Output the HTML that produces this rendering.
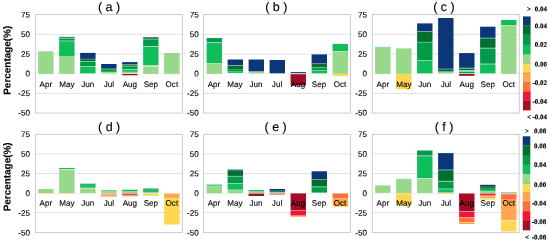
<!DOCTYPE html>
<html lang="en"><head><meta charset="utf-8"><title>Figure</title>
<style>html,body{margin:0;padding:0;background:#fff;}svg{display:block;}</style>
</head><body>
<svg width="550" height="242" viewBox="0 0 550 242" text-rendering="geometricPrecision">
<rect width="550" height="242" fill="#ffffff"/>
<line x1="35.35" x2="182.35" y1="34.3" y2="34.3" stroke="#d9d9d9" stroke-width="0.8"/>
<line x1="35.35" x2="182.35" y1="54" y2="54" stroke="#d9d9d9" stroke-width="0.8"/>
<line x1="35.35" x2="182.35" y1="73.6" y2="73.6" stroke="#f0f0f0" stroke-width="0.8"/>
<line x1="35.35" x2="182.35" y1="93.4" y2="93.4" stroke="#d9d9d9" stroke-width="0.8"/>
<rect x="35.35" y="14.5" width="147" height="98.6" fill="none" stroke="#c6c6c6" stroke-width="0.9"/>
<rect x="38.15" y="51.3" width="15.4" height="22.55" fill="#98d88b"/>
<rect x="59.15" y="36.8" width="15.4" height="1.1" fill="#14905a"/>
<rect x="59.15" y="38.4" width="15.4" height="2.3" fill="#009a48"/>
<rect x="59.15" y="41.2" width="15.4" height="14.8" fill="#0fbe5a"/>
<rect x="59.15" y="56" width="15.4" height="17.85" fill="#98d88b"/>
<rect x="80.15" y="52.9" width="15.4" height="6" fill="#0b3678"/>
<rect x="80.15" y="59.2" width="15.4" height="2" fill="#006f30"/>
<rect x="80.15" y="61.6" width="15.4" height="4.6" fill="#009a48"/>
<rect x="80.15" y="66.6" width="15.4" height="6.8" fill="#0fbe5a"/>
<rect x="101.15" y="64" width="15.4" height="4.3" fill="#0b3678"/>
<rect x="101.15" y="68.3" width="15.4" height="1.3" fill="#006f30"/>
<rect x="101.15" y="69.6" width="15.4" height="1.4" fill="#009a48"/>
<rect x="101.15" y="71" width="15.4" height="1.4" fill="#0fbe5a"/>
<rect x="101.15" y="72.4" width="15.4" height="1.1" fill="#98d88b"/>
<rect x="122.15" y="62.1" width="15.4" height="2.1" fill="#0b3678"/>
<rect x="122.15" y="64.5" width="15.4" height="1.3" fill="#006f30"/>
<rect x="122.15" y="66.3" width="15.4" height="2.7" fill="#009a48"/>
<rect x="122.15" y="69.5" width="15.4" height="2.3" fill="#0fbe5a"/>
<rect x="122.15" y="72" width="15.4" height="1.4" fill="#98d88b"/>
<rect x="122.15" y="74" width="15.4" height="1.3" fill="#a40d25"/>
<rect x="143.15" y="37.1" width="15.4" height="0.5" fill="#0b3678"/>
<rect x="143.15" y="37.6" width="15.4" height="1.2" fill="#006f30"/>
<rect x="143.15" y="39.3" width="15.4" height="6.9" fill="#009a48"/>
<rect x="143.15" y="46.7" width="15.4" height="18.3" fill="#0fbe5a"/>
<rect x="143.15" y="65.3" width="15.4" height="1" fill="#98d88b"/>
<rect x="143.15" y="66.6" width="15.4" height="7.25" fill="#98d88b"/>
<rect x="164.15" y="53" width="15.4" height="20.85" fill="#98d88b"/>
<rect x="164.15" y="73.85" width="15.4" height="0.45" fill="#f5e39a"/>
<text transform="translate(45.85 87.1) rotate(0.06)" font-family='"Liberation Sans", Arial, sans-serif' font-size="8.1" text-anchor="middle" fill="#000" stroke="#000" stroke-width="0.12">Apr</text>
<text transform="translate(66.85 87.1) rotate(0.06)" font-family='"Liberation Sans", Arial, sans-serif' font-size="8.1" text-anchor="middle" fill="#000" stroke="#000" stroke-width="0.12">May</text>
<text transform="translate(87.85 87.1) rotate(0.06)" font-family='"Liberation Sans", Arial, sans-serif' font-size="8.1" text-anchor="middle" fill="#000" stroke="#000" stroke-width="0.12">Jun</text>
<text transform="translate(108.85 87.1) rotate(0.06)" font-family='"Liberation Sans", Arial, sans-serif' font-size="8.1" text-anchor="middle" fill="#000" stroke="#000" stroke-width="0.12">Jul</text>
<text transform="translate(129.85 87.1) rotate(0.06)" font-family='"Liberation Sans", Arial, sans-serif' font-size="8.1" text-anchor="middle" fill="#000" stroke="#000" stroke-width="0.12">Aug</text>
<text transform="translate(150.85 87.1) rotate(0.06)" font-family='"Liberation Sans", Arial, sans-serif' font-size="8.1" text-anchor="middle" fill="#000" stroke="#000" stroke-width="0.12">Sep</text>
<text transform="translate(171.85 87.1) rotate(0.06)" font-family='"Liberation Sans", Arial, sans-serif' font-size="8.1" text-anchor="middle" fill="#000" stroke="#000" stroke-width="0.12">Oct</text>
<text transform="translate(29.95 17.5) rotate(0.06)" font-family='"Liberation Sans", Arial, sans-serif' font-size="8.1" text-anchor="end" fill="#000" stroke="#000" stroke-width="0.12">75</text>
<text transform="translate(29.95 37.12) rotate(0.06)" font-family='"Liberation Sans", Arial, sans-serif' font-size="8.1" text-anchor="end" fill="#000" stroke="#000" stroke-width="0.12">50</text>
<text transform="translate(29.95 56.74) rotate(0.06)" font-family='"Liberation Sans", Arial, sans-serif' font-size="8.1" text-anchor="end" fill="#000" stroke="#000" stroke-width="0.12">25</text>
<text transform="translate(29.95 76.36) rotate(0.06)" font-family='"Liberation Sans", Arial, sans-serif' font-size="8.1" text-anchor="end" fill="#000" stroke="#000" stroke-width="0.12">0</text>
<text transform="translate(29.95 95.98) rotate(0.06)" font-family='"Liberation Sans", Arial, sans-serif' font-size="8.1" text-anchor="end" fill="#000" stroke="#000" stroke-width="0.12">-25</text>
<text transform="translate(29.95 115.6) rotate(0.06)" font-family='"Liberation Sans", Arial, sans-serif' font-size="8.1" text-anchor="end" fill="#000" stroke="#000" stroke-width="0.12">-50</text>
<text transform="translate(109 10.9) rotate(0.06)" font-family='"Liberation Sans", Arial, sans-serif' font-size="12.5" text-anchor="middle" fill="#000" stroke="#000" stroke-width="0.12">( a )</text>
<line x1="203.5" x2="350.5" y1="34.3" y2="34.3" stroke="#d9d9d9" stroke-width="0.8"/>
<line x1="203.5" x2="350.5" y1="54" y2="54" stroke="#d9d9d9" stroke-width="0.8"/>
<line x1="203.5" x2="350.5" y1="73.6" y2="73.6" stroke="#f0f0f0" stroke-width="0.8"/>
<line x1="203.5" x2="350.5" y1="93.4" y2="93.4" stroke="#d9d9d9" stroke-width="0.8"/>
<rect x="203.5" y="14.5" width="147" height="98.6" fill="none" stroke="#c6c6c6" stroke-width="0.9"/>
<rect x="206.6" y="38.1" width="15.4" height="3.9" fill="#009a48"/>
<rect x="206.6" y="42.5" width="15.4" height="20.8" fill="#0fbe5a"/>
<rect x="206.6" y="63.5" width="15.4" height="10.35" fill="#98d88b"/>
<rect x="227.6" y="59.5" width="15.4" height="5.7" fill="#0b3678"/>
<rect x="227.6" y="65.6" width="15.4" height="4.1" fill="#006f30"/>
<rect x="227.6" y="69.9" width="15.4" height="1.4" fill="#009a48"/>
<rect x="227.6" y="71.3" width="15.4" height="1.6" fill="#0fbe5a"/>
<rect x="248.6" y="59.5" width="15.4" height="12" fill="#0b3678"/>
<rect x="248.6" y="71.7" width="15.4" height="1.7" fill="#98d88b"/>
<rect x="248.6" y="73.6" width="15.4" height="0.4" fill="#f7c9c9"/>
<rect x="269.6" y="60" width="15.4" height="13.3" fill="#0b3678"/>
<rect x="290.6" y="72.1" width="15.4" height="1.1" fill="#0b3678"/>
<rect x="290.6" y="74.2" width="15.4" height="11.3" fill="#a40d25"/>
<rect x="311.6" y="54.4" width="15.4" height="9.2" fill="#0b3678"/>
<rect x="311.6" y="64" width="15.4" height="3.5" fill="#006f30"/>
<rect x="311.6" y="67.9" width="15.4" height="2.6" fill="#009a48"/>
<rect x="311.6" y="70.9" width="15.4" height="2.5" fill="#0fbe5a"/>
<rect x="332.6" y="43.9" width="15.4" height="7.3" fill="#0fbe5a"/>
<rect x="332.6" y="51.5" width="15.4" height="22.35" fill="#98d88b"/>
<rect x="332.6" y="74.1" width="15.4" height="1.9" fill="#ffd851"/>
<text transform="translate(214 87.1) rotate(0.06)" font-family='"Liberation Sans", Arial, sans-serif' font-size="8.1" text-anchor="middle" fill="#000" stroke="#000" stroke-width="0.12">Apr</text>
<text transform="translate(235 87.1) rotate(0.06)" font-family='"Liberation Sans", Arial, sans-serif' font-size="8.1" text-anchor="middle" fill="#000" stroke="#000" stroke-width="0.12">May</text>
<text transform="translate(256 87.1) rotate(0.06)" font-family='"Liberation Sans", Arial, sans-serif' font-size="8.1" text-anchor="middle" fill="#000" stroke="#000" stroke-width="0.12">Jun</text>
<text transform="translate(277 87.1) rotate(0.06)" font-family='"Liberation Sans", Arial, sans-serif' font-size="8.1" text-anchor="middle" fill="#000" stroke="#000" stroke-width="0.12">Jul</text>
<text transform="translate(298 87.1) rotate(0.06)" font-family='"Liberation Sans", Arial, sans-serif' font-size="8.1" text-anchor="middle" fill="#000" stroke="#000" stroke-width="0.12">Aug</text>
<text transform="translate(319 87.1) rotate(0.06)" font-family='"Liberation Sans", Arial, sans-serif' font-size="8.1" text-anchor="middle" fill="#000" stroke="#000" stroke-width="0.12">Sep</text>
<text transform="translate(340 87.1) rotate(0.06)" font-family='"Liberation Sans", Arial, sans-serif' font-size="8.1" text-anchor="middle" fill="#000" stroke="#000" stroke-width="0.12">Oct</text>
<text transform="translate(198.7 17.5) rotate(0.06)" font-family='"Liberation Sans", Arial, sans-serif' font-size="8.1" text-anchor="end" fill="#000" stroke="#000" stroke-width="0.12">75</text>
<text transform="translate(198.7 37.12) rotate(0.06)" font-family='"Liberation Sans", Arial, sans-serif' font-size="8.1" text-anchor="end" fill="#000" stroke="#000" stroke-width="0.12">50</text>
<text transform="translate(198.7 56.74) rotate(0.06)" font-family='"Liberation Sans", Arial, sans-serif' font-size="8.1" text-anchor="end" fill="#000" stroke="#000" stroke-width="0.12">25</text>
<text transform="translate(198.7 76.36) rotate(0.06)" font-family='"Liberation Sans", Arial, sans-serif' font-size="8.1" text-anchor="end" fill="#000" stroke="#000" stroke-width="0.12">0</text>
<text transform="translate(198.7 95.98) rotate(0.06)" font-family='"Liberation Sans", Arial, sans-serif' font-size="8.1" text-anchor="end" fill="#000" stroke="#000" stroke-width="0.12">-25</text>
<text transform="translate(198.7 115.6) rotate(0.06)" font-family='"Liberation Sans", Arial, sans-serif' font-size="8.1" text-anchor="end" fill="#000" stroke="#000" stroke-width="0.12">-50</text>
<text transform="translate(276.3 10.9) rotate(0.06)" font-family='"Liberation Sans", Arial, sans-serif' font-size="12.5" text-anchor="middle" fill="#000" stroke="#000" stroke-width="0.12">( b )</text>
<line x1="372.3" x2="519.3" y1="34.3" y2="34.3" stroke="#d9d9d9" stroke-width="0.8"/>
<line x1="372.3" x2="519.3" y1="54" y2="54" stroke="#d9d9d9" stroke-width="0.8"/>
<line x1="372.3" x2="519.3" y1="73.6" y2="73.6" stroke="#f0f0f0" stroke-width="0.8"/>
<line x1="372.3" x2="519.3" y1="93.4" y2="93.4" stroke="#d9d9d9" stroke-width="0.8"/>
<rect x="372.3" y="14.5" width="147" height="98.6" fill="none" stroke="#c6c6c6" stroke-width="0.9"/>
<rect x="375.1" y="46.9" width="15.4" height="0.6" fill="#0fbe5a"/>
<rect x="375.1" y="47.5" width="15.4" height="26.35" fill="#98d88b"/>
<rect x="396.1" y="48.4" width="15.4" height="25.45" fill="#98d88b"/>
<rect x="396.1" y="74" width="15.4" height="15.3" fill="#ffd851"/>
<rect x="417.1" y="23.4" width="15.4" height="8" fill="#0b3678"/>
<rect x="417.1" y="31.8" width="15.4" height="10.1" fill="#006f30"/>
<rect x="417.1" y="42.3" width="15.4" height="18" fill="#009a48"/>
<rect x="417.1" y="60.7" width="15.4" height="12.7" fill="#0fbe5a"/>
<rect x="438.1" y="18" width="15.4" height="50.8" fill="#0b3678"/>
<rect x="438.1" y="69.2" width="15.4" height="2.2" fill="#006f30"/>
<rect x="438.1" y="71.5" width="15.4" height="1" fill="#0fbe5a"/>
<rect x="438.1" y="72.5" width="15.4" height="1" fill="#98d88b"/>
<rect x="459.1" y="53.1" width="15.4" height="14.7" fill="#0b3678"/>
<rect x="459.1" y="68.4" width="15.4" height="1.6" fill="#006f30"/>
<rect x="459.1" y="70.5" width="15.4" height="1" fill="#0fbe5a"/>
<rect x="459.1" y="72" width="15.4" height="1.3" fill="#009a48"/>
<rect x="459.1" y="74" width="15.4" height="1.8" fill="#a40d25"/>
<rect x="480.1" y="26.7" width="15.4" height="11.1" fill="#0b3678"/>
<rect x="480.1" y="38.3" width="15.4" height="9.5" fill="#006f30"/>
<rect x="480.1" y="48.4" width="15.4" height="15.3" fill="#009a48"/>
<rect x="480.1" y="64.3" width="15.4" height="9.1" fill="#0fbe5a"/>
<rect x="501.1" y="20" width="15.4" height="5" fill="#0fbe5a"/>
<rect x="501.1" y="25.3" width="15.4" height="48.55" fill="#98d88b"/>
<text transform="translate(382.8 87.1) rotate(0.06)" font-family='"Liberation Sans", Arial, sans-serif' font-size="8.1" text-anchor="middle" fill="#000" stroke="#000" stroke-width="0.12">Apr</text>
<text transform="translate(403.8 87.1) rotate(0.06)" font-family='"Liberation Sans", Arial, sans-serif' font-size="8.1" text-anchor="middle" fill="#000" stroke="#000" stroke-width="0.12">May</text>
<text transform="translate(424.8 87.1) rotate(0.06)" font-family='"Liberation Sans", Arial, sans-serif' font-size="8.1" text-anchor="middle" fill="#000" stroke="#000" stroke-width="0.12">Jun</text>
<text transform="translate(445.8 87.1) rotate(0.06)" font-family='"Liberation Sans", Arial, sans-serif' font-size="8.1" text-anchor="middle" fill="#000" stroke="#000" stroke-width="0.12">Jul</text>
<text transform="translate(466.8 87.1) rotate(0.06)" font-family='"Liberation Sans", Arial, sans-serif' font-size="8.1" text-anchor="middle" fill="#000" stroke="#000" stroke-width="0.12">Aug</text>
<text transform="translate(487.8 87.1) rotate(0.06)" font-family='"Liberation Sans", Arial, sans-serif' font-size="8.1" text-anchor="middle" fill="#000" stroke="#000" stroke-width="0.12">Sep</text>
<text transform="translate(508.8 87.1) rotate(0.06)" font-family='"Liberation Sans", Arial, sans-serif' font-size="8.1" text-anchor="middle" fill="#000" stroke="#000" stroke-width="0.12">Oct</text>
<text transform="translate(366.9 17.5) rotate(0.06)" font-family='"Liberation Sans", Arial, sans-serif' font-size="8.1" text-anchor="end" fill="#000" stroke="#000" stroke-width="0.12">75</text>
<text transform="translate(366.9 37.12) rotate(0.06)" font-family='"Liberation Sans", Arial, sans-serif' font-size="8.1" text-anchor="end" fill="#000" stroke="#000" stroke-width="0.12">50</text>
<text transform="translate(366.9 56.74) rotate(0.06)" font-family='"Liberation Sans", Arial, sans-serif' font-size="8.1" text-anchor="end" fill="#000" stroke="#000" stroke-width="0.12">25</text>
<text transform="translate(366.9 76.36) rotate(0.06)" font-family='"Liberation Sans", Arial, sans-serif' font-size="8.1" text-anchor="end" fill="#000" stroke="#000" stroke-width="0.12">0</text>
<text transform="translate(366.9 95.98) rotate(0.06)" font-family='"Liberation Sans", Arial, sans-serif' font-size="8.1" text-anchor="end" fill="#000" stroke="#000" stroke-width="0.12">-25</text>
<text transform="translate(366.9 115.6) rotate(0.06)" font-family='"Liberation Sans", Arial, sans-serif' font-size="8.1" text-anchor="end" fill="#000" stroke="#000" stroke-width="0.12">-50</text>
<text transform="translate(444 10.9) rotate(0.06)" font-family='"Liberation Sans", Arial, sans-serif' font-size="12.5" text-anchor="middle" fill="#000" stroke="#000" stroke-width="0.12">( c )</text>
<line x1="35.35" x2="182.35" y1="153.9" y2="153.9" stroke="#d9d9d9" stroke-width="0.8"/>
<line x1="35.35" x2="182.35" y1="173.5" y2="173.5" stroke="#d9d9d9" stroke-width="0.8"/>
<line x1="35.35" x2="182.35" y1="193.3" y2="193.3" stroke="#f0f0f0" stroke-width="0.8"/>
<line x1="35.35" x2="182.35" y1="212.6" y2="212.6" stroke="#d9d9d9" stroke-width="0.8"/>
<rect x="35.35" y="134.3" width="147" height="98.3" fill="none" stroke="#c6c6c6" stroke-width="0.9"/>
<rect x="38.15" y="189" width="15.4" height="4.2" fill="#98d88b"/>
<rect x="38.15" y="193.4" width="15.4" height="0.4" fill="#ffd851"/>
<rect x="59.15" y="168" width="15.4" height="1" fill="#0fbe5a"/>
<rect x="59.15" y="169.5" width="15.4" height="23.7" fill="#98d88b"/>
<rect x="59.15" y="193.4" width="15.4" height="0.4" fill="#ffd851"/>
<rect x="80.15" y="183.6" width="15.4" height="4.2" fill="#2ab86a"/>
<rect x="80.15" y="188.4" width="15.4" height="4.8" fill="#98d88b"/>
<rect x="101.15" y="190.2" width="15.4" height="0.8" fill="#4cc880"/>
<rect x="101.15" y="191" width="15.4" height="2.2" fill="#98d88b"/>
<rect x="101.15" y="193.6" width="15.4" height="1.2" fill="#f28f8f"/>
<rect x="101.15" y="195" width="15.4" height="1" fill="#ffa64f"/>
<rect x="101.15" y="196" width="15.4" height="1.1" fill="#ffd851"/>
<rect x="122.15" y="189.7" width="15.4" height="1.3" fill="#0fbe5a"/>
<rect x="122.15" y="191" width="15.4" height="2.2" fill="#98d88b"/>
<rect x="122.15" y="193.6" width="15.4" height="1.9" fill="#e8434f"/>
<rect x="122.15" y="195.6" width="15.4" height="0.8" fill="#ffa64f"/>
<rect x="143.15" y="188.4" width="15.4" height="3.6" fill="#2ab86a"/>
<rect x="143.15" y="192" width="15.4" height="1.3" fill="#98d88b"/>
<rect x="143.15" y="194" width="15.4" height="1.8" fill="#ffd851"/>
<rect x="164.15" y="193.6" width="15.4" height="4.3" fill="#ffa64f"/>
<rect x="164.15" y="198" width="15.4" height="26.5" fill="#ffd851"/>
<text transform="translate(45.85 205.7) rotate(0.06)" font-family='"Liberation Sans", Arial, sans-serif' font-size="8.1" text-anchor="middle" fill="#000" stroke="#000" stroke-width="0.12">Apr</text>
<text transform="translate(66.85 205.7) rotate(0.06)" font-family='"Liberation Sans", Arial, sans-serif' font-size="8.1" text-anchor="middle" fill="#000" stroke="#000" stroke-width="0.12">May</text>
<text transform="translate(87.85 205.7) rotate(0.06)" font-family='"Liberation Sans", Arial, sans-serif' font-size="8.1" text-anchor="middle" fill="#000" stroke="#000" stroke-width="0.12">Jun</text>
<text transform="translate(108.85 205.7) rotate(0.06)" font-family='"Liberation Sans", Arial, sans-serif' font-size="8.1" text-anchor="middle" fill="#000" stroke="#000" stroke-width="0.12">Jul</text>
<text transform="translate(129.85 205.7) rotate(0.06)" font-family='"Liberation Sans", Arial, sans-serif' font-size="8.1" text-anchor="middle" fill="#000" stroke="#000" stroke-width="0.12">Aug</text>
<text transform="translate(150.85 205.7) rotate(0.06)" font-family='"Liberation Sans", Arial, sans-serif' font-size="8.1" text-anchor="middle" fill="#000" stroke="#000" stroke-width="0.12">Sep</text>
<text transform="translate(171.85 205.7) rotate(0.06)" font-family='"Liberation Sans", Arial, sans-serif' font-size="8.1" text-anchor="middle" fill="#000" stroke="#000" stroke-width="0.12">Oct</text>
<text transform="translate(29.95 137) rotate(0.06)" font-family='"Liberation Sans", Arial, sans-serif' font-size="8.1" text-anchor="end" fill="#000" stroke="#000" stroke-width="0.12">75</text>
<text transform="translate(29.95 156.68) rotate(0.06)" font-family='"Liberation Sans", Arial, sans-serif' font-size="8.1" text-anchor="end" fill="#000" stroke="#000" stroke-width="0.12">50</text>
<text transform="translate(29.95 176.36) rotate(0.06)" font-family='"Liberation Sans", Arial, sans-serif' font-size="8.1" text-anchor="end" fill="#000" stroke="#000" stroke-width="0.12">25</text>
<text transform="translate(29.95 196.04) rotate(0.06)" font-family='"Liberation Sans", Arial, sans-serif' font-size="8.1" text-anchor="end" fill="#000" stroke="#000" stroke-width="0.12">0</text>
<text transform="translate(29.95 215.72) rotate(0.06)" font-family='"Liberation Sans", Arial, sans-serif' font-size="8.1" text-anchor="end" fill="#000" stroke="#000" stroke-width="0.12">-25</text>
<text transform="translate(29.95 235.4) rotate(0.06)" font-family='"Liberation Sans", Arial, sans-serif' font-size="8.1" text-anchor="end" fill="#000" stroke="#000" stroke-width="0.12">-50</text>
<text transform="translate(109.1 131) rotate(0.06)" font-family='"Liberation Sans", Arial, sans-serif' font-size="12.5" text-anchor="middle" fill="#000" stroke="#000" stroke-width="0.12">( d )</text>
<line x1="203.5" x2="350.5" y1="153.9" y2="153.9" stroke="#d9d9d9" stroke-width="0.8"/>
<line x1="203.5" x2="350.5" y1="173.5" y2="173.5" stroke="#d9d9d9" stroke-width="0.8"/>
<line x1="203.5" x2="350.5" y1="193.3" y2="193.3" stroke="#f0f0f0" stroke-width="0.8"/>
<line x1="203.5" x2="350.5" y1="212.6" y2="212.6" stroke="#d9d9d9" stroke-width="0.8"/>
<rect x="203.5" y="134.3" width="147" height="98.3" fill="none" stroke="#c6c6c6" stroke-width="0.9"/>
<rect x="206.6" y="184.6" width="15.4" height="1.1" fill="#0fbe5a"/>
<rect x="206.6" y="186.1" width="15.4" height="7.1" fill="#98d88b"/>
<rect x="227.6" y="169.6" width="15.4" height="0.7" fill="#0b3678"/>
<rect x="227.6" y="170.3" width="15.4" height="5.6" fill="#006f30"/>
<rect x="227.6" y="176.4" width="15.4" height="7" fill="#009a48"/>
<rect x="227.6" y="183.9" width="15.4" height="5.8" fill="#0fbe5a"/>
<rect x="227.6" y="190.1" width="15.4" height="3.1" fill="#98d88b"/>
<rect x="248.6" y="190" width="15.4" height="1.6" fill="#2ab86a"/>
<rect x="248.6" y="191.6" width="15.4" height="1.6" fill="#98d88b"/>
<rect x="248.6" y="193.6" width="15.4" height="2.4" fill="#a40d25"/>
<rect x="269.6" y="189" width="15.4" height="1.8" fill="#0b3678"/>
<rect x="269.6" y="191" width="15.4" height="1.4" fill="#009a48"/>
<rect x="269.6" y="192.5" width="15.4" height="0.7" fill="#98d88b"/>
<rect x="269.6" y="193.6" width="15.4" height="1" fill="#e8434f"/>
<rect x="290.6" y="193.4" width="15.4" height="16.6" fill="#a40d25"/>
<rect x="290.6" y="210.4" width="15.4" height="5.2" fill="#ee1539"/>
<rect x="290.6" y="215.9" width="15.4" height="0.9" fill="#ffa64f"/>
<rect x="311.6" y="171.3" width="15.4" height="7.7" fill="#0b3678"/>
<rect x="311.6" y="179.4" width="15.4" height="7.2" fill="#006f30"/>
<rect x="311.6" y="187.2" width="15.4" height="5.4" fill="#009a48"/>
<rect x="332.6" y="193.5" width="15.4" height="5" fill="#ff7038"/>
<rect x="332.6" y="198.6" width="15.4" height="7.6" fill="#ffa64f"/>
<rect x="332.6" y="206.2" width="15.4" height="0.8" fill="#ffd851"/>
<text transform="translate(214 205.7) rotate(0.06)" font-family='"Liberation Sans", Arial, sans-serif' font-size="8.1" text-anchor="middle" fill="#000" stroke="#000" stroke-width="0.12">Apr</text>
<text transform="translate(235 205.7) rotate(0.06)" font-family='"Liberation Sans", Arial, sans-serif' font-size="8.1" text-anchor="middle" fill="#000" stroke="#000" stroke-width="0.12">May</text>
<text transform="translate(256 205.7) rotate(0.06)" font-family='"Liberation Sans", Arial, sans-serif' font-size="8.1" text-anchor="middle" fill="#000" stroke="#000" stroke-width="0.12">Jun</text>
<text transform="translate(277 205.7) rotate(0.06)" font-family='"Liberation Sans", Arial, sans-serif' font-size="8.1" text-anchor="middle" fill="#000" stroke="#000" stroke-width="0.12">Jul</text>
<text transform="translate(298 205.7) rotate(0.06)" font-family='"Liberation Sans", Arial, sans-serif' font-size="8.1" text-anchor="middle" fill="#000" stroke="#000" stroke-width="0.12">Aug</text>
<text transform="translate(319 205.7) rotate(0.06)" font-family='"Liberation Sans", Arial, sans-serif' font-size="8.1" text-anchor="middle" fill="#000" stroke="#000" stroke-width="0.12">Sep</text>
<text transform="translate(340 205.7) rotate(0.06)" font-family='"Liberation Sans", Arial, sans-serif' font-size="8.1" text-anchor="middle" fill="#000" stroke="#000" stroke-width="0.12">Oct</text>
<text transform="translate(198.7 137) rotate(0.06)" font-family='"Liberation Sans", Arial, sans-serif' font-size="8.1" text-anchor="end" fill="#000" stroke="#000" stroke-width="0.12">75</text>
<text transform="translate(198.7 156.68) rotate(0.06)" font-family='"Liberation Sans", Arial, sans-serif' font-size="8.1" text-anchor="end" fill="#000" stroke="#000" stroke-width="0.12">50</text>
<text transform="translate(198.7 176.36) rotate(0.06)" font-family='"Liberation Sans", Arial, sans-serif' font-size="8.1" text-anchor="end" fill="#000" stroke="#000" stroke-width="0.12">25</text>
<text transform="translate(198.7 196.04) rotate(0.06)" font-family='"Liberation Sans", Arial, sans-serif' font-size="8.1" text-anchor="end" fill="#000" stroke="#000" stroke-width="0.12">0</text>
<text transform="translate(198.7 215.72) rotate(0.06)" font-family='"Liberation Sans", Arial, sans-serif' font-size="8.1" text-anchor="end" fill="#000" stroke="#000" stroke-width="0.12">-25</text>
<text transform="translate(198.7 235.4) rotate(0.06)" font-family='"Liberation Sans", Arial, sans-serif' font-size="8.1" text-anchor="end" fill="#000" stroke="#000" stroke-width="0.12">-50</text>
<text transform="translate(275.6 131) rotate(0.06)" font-family='"Liberation Sans", Arial, sans-serif' font-size="12.5" text-anchor="middle" fill="#000" stroke="#000" stroke-width="0.12">( e )</text>
<line x1="372.3" x2="519.3" y1="153.9" y2="153.9" stroke="#d9d9d9" stroke-width="0.8"/>
<line x1="372.3" x2="519.3" y1="173.5" y2="173.5" stroke="#d9d9d9" stroke-width="0.8"/>
<line x1="372.3" x2="519.3" y1="193.3" y2="193.3" stroke="#f0f0f0" stroke-width="0.8"/>
<line x1="372.3" x2="519.3" y1="212.6" y2="212.6" stroke="#d9d9d9" stroke-width="0.8"/>
<rect x="372.3" y="134.3" width="146.8" height="98.3" fill="none" stroke="#c6c6c6" stroke-width="0.9"/>
<rect x="375.1" y="185.4" width="15.4" height="7.5" fill="#98d88b"/>
<rect x="396.1" y="178.9" width="15.4" height="0.5" fill="#0fbe5a"/>
<rect x="396.1" y="179.4" width="15.4" height="13.7" fill="#98d88b"/>
<rect x="396.1" y="193.4" width="15.4" height="12.1" fill="#ffd851"/>
<rect x="417.1" y="150.5" width="15.4" height="5.1" fill="#009a48"/>
<rect x="417.1" y="156.2" width="15.4" height="21.9" fill="#0fbe5a"/>
<rect x="417.1" y="178.5" width="15.4" height="14.6" fill="#98d88b"/>
<rect x="438.1" y="153.1" width="15.4" height="16.6" fill="#0b3678"/>
<rect x="438.1" y="170.2" width="15.4" height="10.7" fill="#006f30"/>
<rect x="438.1" y="181.5" width="15.4" height="7.2" fill="#009a48"/>
<rect x="438.1" y="189.2" width="15.4" height="2.8" fill="#0fbe5a"/>
<rect x="438.1" y="192" width="15.4" height="1.1" fill="#98d88b"/>
<rect x="438.1" y="193.4" width="15.4" height="0.4" fill="#ffa64f"/>
<rect x="459.1" y="193.5" width="15.4" height="17.7" fill="#a40d25"/>
<rect x="459.1" y="211.6" width="15.4" height="5.8" fill="#ee1539"/>
<rect x="459.1" y="217.9" width="15.4" height="4" fill="#ff7038"/>
<rect x="459.1" y="222.3" width="15.4" height="1.7" fill="#ffa64f"/>
<rect x="480.1" y="184.8" width="15.4" height="1.2" fill="#0b3678"/>
<rect x="480.1" y="186.1" width="15.4" height="1.8" fill="#006f30"/>
<rect x="480.1" y="188.1" width="15.4" height="1.8" fill="#009a48"/>
<rect x="480.1" y="190.1" width="15.4" height="1.4" fill="#0fbe5a"/>
<rect x="480.1" y="191.6" width="15.4" height="1.5" fill="#98d88b"/>
<rect x="480.1" y="193.5" width="15.4" height="1.4" fill="#ee1539"/>
<rect x="480.1" y="195.1" width="15.4" height="1.3" fill="#ff7038"/>
<rect x="480.1" y="196.7" width="15.4" height="1.4" fill="#ffa64f"/>
<rect x="480.1" y="198.3" width="15.4" height="1.4" fill="#ffd851"/>
<rect x="501.1" y="192" width="15.4" height="1.1" fill="#98d88b"/>
<rect x="501.1" y="193.5" width="15.4" height="1.5" fill="#f28f8f"/>
<rect x="501.1" y="195" width="15.4" height="4.7" fill="#ff7038"/>
<rect x="501.1" y="200" width="15.4" height="20.2" fill="#ffa64f"/>
<rect x="501.1" y="220.6" width="15.4" height="10.9" fill="#ffd851"/>
<text transform="translate(382.8 205.7) rotate(0.06)" font-family='"Liberation Sans", Arial, sans-serif' font-size="8.1" text-anchor="middle" fill="#000" stroke="#000" stroke-width="0.12">Apr</text>
<text transform="translate(403.8 205.7) rotate(0.06)" font-family='"Liberation Sans", Arial, sans-serif' font-size="8.1" text-anchor="middle" fill="#000" stroke="#000" stroke-width="0.12">May</text>
<text transform="translate(424.8 205.7) rotate(0.06)" font-family='"Liberation Sans", Arial, sans-serif' font-size="8.1" text-anchor="middle" fill="#000" stroke="#000" stroke-width="0.12">Jun</text>
<text transform="translate(445.8 205.7) rotate(0.06)" font-family='"Liberation Sans", Arial, sans-serif' font-size="8.1" text-anchor="middle" fill="#000" stroke="#000" stroke-width="0.12">Jul</text>
<text transform="translate(466.8 205.7) rotate(0.06)" font-family='"Liberation Sans", Arial, sans-serif' font-size="8.1" text-anchor="middle" fill="#000" stroke="#000" stroke-width="0.12">Aug</text>
<text transform="translate(487.8 205.7) rotate(0.06)" font-family='"Liberation Sans", Arial, sans-serif' font-size="8.1" text-anchor="middle" fill="#000" stroke="#000" stroke-width="0.12">Sep</text>
<text transform="translate(508.8 205.7) rotate(0.06)" font-family='"Liberation Sans", Arial, sans-serif' font-size="8.1" text-anchor="middle" fill="#000" stroke="#000" stroke-width="0.12">Oct</text>
<text transform="translate(366.9 137) rotate(0.06)" font-family='"Liberation Sans", Arial, sans-serif' font-size="8.1" text-anchor="end" fill="#000" stroke="#000" stroke-width="0.12">75</text>
<text transform="translate(366.9 156.68) rotate(0.06)" font-family='"Liberation Sans", Arial, sans-serif' font-size="8.1" text-anchor="end" fill="#000" stroke="#000" stroke-width="0.12">50</text>
<text transform="translate(366.9 176.36) rotate(0.06)" font-family='"Liberation Sans", Arial, sans-serif' font-size="8.1" text-anchor="end" fill="#000" stroke="#000" stroke-width="0.12">25</text>
<text transform="translate(366.9 196.04) rotate(0.06)" font-family='"Liberation Sans", Arial, sans-serif' font-size="8.1" text-anchor="end" fill="#000" stroke="#000" stroke-width="0.12">0</text>
<text transform="translate(366.9 215.72) rotate(0.06)" font-family='"Liberation Sans", Arial, sans-serif' font-size="8.1" text-anchor="end" fill="#000" stroke="#000" stroke-width="0.12">-25</text>
<text transform="translate(366.9 235.4) rotate(0.06)" font-family='"Liberation Sans", Arial, sans-serif' font-size="8.1" text-anchor="end" fill="#000" stroke="#000" stroke-width="0.12">-50</text>
<text transform="translate(444.1 131) rotate(0.06)" font-family='"Liberation Sans", Arial, sans-serif' font-size="12.5" text-anchor="middle" fill="#000" stroke="#000" stroke-width="0.12">( f )</text>
<text transform="translate(10.4 60.25) rotate(-90.06)" font-family='"Liberation Sans", Arial, sans-serif' font-size="9.95" font-weight="bold" text-anchor="middle" fill="#000" stroke="#000" stroke-width="0.12">Percentage(%)</text>
<text transform="translate(10.4 176.85) rotate(-90.06)" font-family='"Liberation Sans", Arial, sans-serif' font-size="9.95" font-weight="bold" text-anchor="middle" fill="#000" stroke="#000" stroke-width="0.12">Percentage(%)</text>
<rect x="523" y="16.45" width="7.6" height="9" fill="#0b3678"/>
<rect x="523" y="25.4" width="7.6" height="9.35" fill="#006f30"/>
<rect x="523" y="34.7" width="7.6" height="10.15" fill="#009a48"/>
<rect x="523" y="44.8" width="7.6" height="9.55" fill="#0fbe5a"/>
<rect x="523" y="54.3" width="7.6" height="9.35" fill="#98d88b"/>
<rect x="523" y="63.6" width="7.6" height="9.45" fill="#ffd851"/>
<rect x="523" y="73" width="7.6" height="9.25" fill="#ffa64f"/>
<rect x="523" y="82.2" width="7.6" height="9.55" fill="#ff7038"/>
<rect x="523" y="91.7" width="7.6" height="9.05" fill="#ee1539"/>
<rect x="523" y="100.7" width="7.6" height="9.65" fill="#a40d25"/>
<rect x="523" y="25.1" width="7.6" height="0.6" fill="#000" fill-opacity="0.22"/>
<rect x="523" y="34.4" width="7.6" height="0.6" fill="#000" fill-opacity="0.22"/>
<rect x="523" y="44.5" width="7.6" height="0.6" fill="#000" fill-opacity="0.22"/>
<rect x="523" y="54" width="7.6" height="0.6" fill="#000" fill-opacity="0.22"/>
<rect x="523" y="63.3" width="7.6" height="0.6" fill="#000" fill-opacity="0.22"/>
<rect x="523" y="72.7" width="7.6" height="0.6" fill="#000" fill-opacity="0.22"/>
<rect x="523" y="81.9" width="7.6" height="0.6" fill="#000" fill-opacity="0.22"/>
<rect x="523" y="91.4" width="7.6" height="0.6" fill="#000" fill-opacity="0.22"/>
<rect x="523" y="100.4" width="7.6" height="0.6" fill="#000" fill-opacity="0.22"/>
<text transform="translate(527 11.2) rotate(0.06)" font-family='"Liberation Serif", "Times New Roman", serif' font-size="7" font-weight="bold" fill="#000" stroke="#000" stroke-width="0.16">&gt;</text>
<text transform="translate(547.1 11.2) rotate(0.06)" font-family='"Liberation Serif", "Times New Roman", serif' font-size="7" font-weight="bold" text-anchor="end" fill="#000" stroke="#000" stroke-width="0.16">0.04</text>
<text transform="translate(547.1 28.2) rotate(0.06)" font-family='"Liberation Serif", "Times New Roman", serif' font-size="7" font-weight="bold" text-anchor="end" fill="#000" stroke="#000" stroke-width="0.16">0.04</text>
<text transform="translate(547.1 46.7) rotate(0.06)" font-family='"Liberation Serif", "Times New Roman", serif' font-size="7" font-weight="bold" text-anchor="end" fill="#000" stroke="#000" stroke-width="0.16">0.02</text>
<text transform="translate(547.1 66.5) rotate(0.06)" font-family='"Liberation Serif", "Times New Roman", serif' font-size="7" font-weight="bold" text-anchor="end" fill="#000" stroke="#000" stroke-width="0.16">0.00</text>
<text transform="translate(547.1 85) rotate(0.06)" font-family='"Liberation Serif", "Times New Roman", serif' font-size="7" font-weight="bold" text-anchor="end" fill="#000" stroke="#000" stroke-width="0.16">-0.02</text>
<text transform="translate(547.1 103.7) rotate(0.06)" font-family='"Liberation Serif", "Times New Roman", serif' font-size="7" font-weight="bold" text-anchor="end" fill="#000" stroke="#000" stroke-width="0.16">-0.04</text>
<text transform="translate(527 119.2) rotate(0.06)" font-family='"Liberation Serif", "Times New Roman", serif' font-size="7" font-weight="bold" fill="#000" stroke="#000" stroke-width="0.16">&lt;</text>
<text transform="translate(547.1 119.2) rotate(0.06)" font-family='"Liberation Serif", "Times New Roman", serif' font-size="7" font-weight="bold" text-anchor="end" fill="#000" stroke="#000" stroke-width="0.16">-0.04</text>
<rect x="522.7" y="136.3" width="7.6" height="9.15" fill="#0b3678"/>
<rect x="522.7" y="145.4" width="7.6" height="9.65" fill="#006f30"/>
<rect x="522.7" y="155" width="7.6" height="9.75" fill="#009a48"/>
<rect x="522.7" y="164.7" width="7.6" height="9.15" fill="#0fbe5a"/>
<rect x="522.7" y="173.8" width="7.6" height="9.95" fill="#98d88b"/>
<rect x="522.7" y="183.7" width="7.6" height="8.95" fill="#ffd851"/>
<rect x="522.7" y="192.6" width="7.6" height="9.45" fill="#ffa64f"/>
<rect x="522.7" y="202" width="7.6" height="9.35" fill="#ff7038"/>
<rect x="522.7" y="211.3" width="7.6" height="9.55" fill="#ee1539"/>
<rect x="522.7" y="220.8" width="7.6" height="9.55" fill="#a40d25"/>
<rect x="522.7" y="145.1" width="7.6" height="0.6" fill="#000" fill-opacity="0.22"/>
<rect x="522.7" y="154.7" width="7.6" height="0.6" fill="#000" fill-opacity="0.22"/>
<rect x="522.7" y="164.4" width="7.6" height="0.6" fill="#000" fill-opacity="0.22"/>
<rect x="522.7" y="173.5" width="7.6" height="0.6" fill="#000" fill-opacity="0.22"/>
<rect x="522.7" y="183.4" width="7.6" height="0.6" fill="#000" fill-opacity="0.22"/>
<rect x="522.7" y="192.3" width="7.6" height="0.6" fill="#000" fill-opacity="0.22"/>
<rect x="522.7" y="201.7" width="7.6" height="0.6" fill="#000" fill-opacity="0.22"/>
<rect x="522.7" y="211" width="7.6" height="0.6" fill="#000" fill-opacity="0.22"/>
<rect x="522.7" y="220.5" width="7.6" height="0.6" fill="#000" fill-opacity="0.22"/>
<text transform="translate(525 133.3) rotate(0.06)" font-family='"Liberation Serif", "Times New Roman", serif' font-size="7" font-weight="bold" fill="#000" stroke="#000" stroke-width="0.16">&gt;</text>
<text transform="translate(546.3 133.3) rotate(0.06)" font-family='"Liberation Serif", "Times New Roman", serif' font-size="7" font-weight="bold" text-anchor="end" fill="#000" stroke="#000" stroke-width="0.16">0.08</text>
<text transform="translate(546.3 148.3) rotate(0.06)" font-family='"Liberation Serif", "Times New Roman", serif' font-size="7" font-weight="bold" text-anchor="end" fill="#000" stroke="#000" stroke-width="0.16">0.08</text>
<text transform="translate(546.3 167) rotate(0.06)" font-family='"Liberation Serif", "Times New Roman", serif' font-size="7" font-weight="bold" text-anchor="end" fill="#000" stroke="#000" stroke-width="0.16">0.04</text>
<text transform="translate(546.3 186.9) rotate(0.06)" font-family='"Liberation Serif", "Times New Roman", serif' font-size="7" font-weight="bold" text-anchor="end" fill="#000" stroke="#000" stroke-width="0.16">0.00</text>
<text transform="translate(546.3 205.4) rotate(0.06)" font-family='"Liberation Serif", "Times New Roman", serif' font-size="7" font-weight="bold" text-anchor="end" fill="#000" stroke="#000" stroke-width="0.16">-0.04</text>
<text transform="translate(546.3 224) rotate(0.06)" font-family='"Liberation Serif", "Times New Roman", serif' font-size="7" font-weight="bold" text-anchor="end" fill="#000" stroke="#000" stroke-width="0.16">-0.08</text>
<text transform="translate(525 239.6) rotate(0.06)" font-family='"Liberation Serif", "Times New Roman", serif' font-size="7" font-weight="bold" fill="#000" stroke="#000" stroke-width="0.16">&lt;</text>
<text transform="translate(546.3 239.6) rotate(0.06)" font-family='"Liberation Serif", "Times New Roman", serif' font-size="7" font-weight="bold" text-anchor="end" fill="#000" stroke="#000" stroke-width="0.16">-0.08</text>
</svg>
</body></html>
